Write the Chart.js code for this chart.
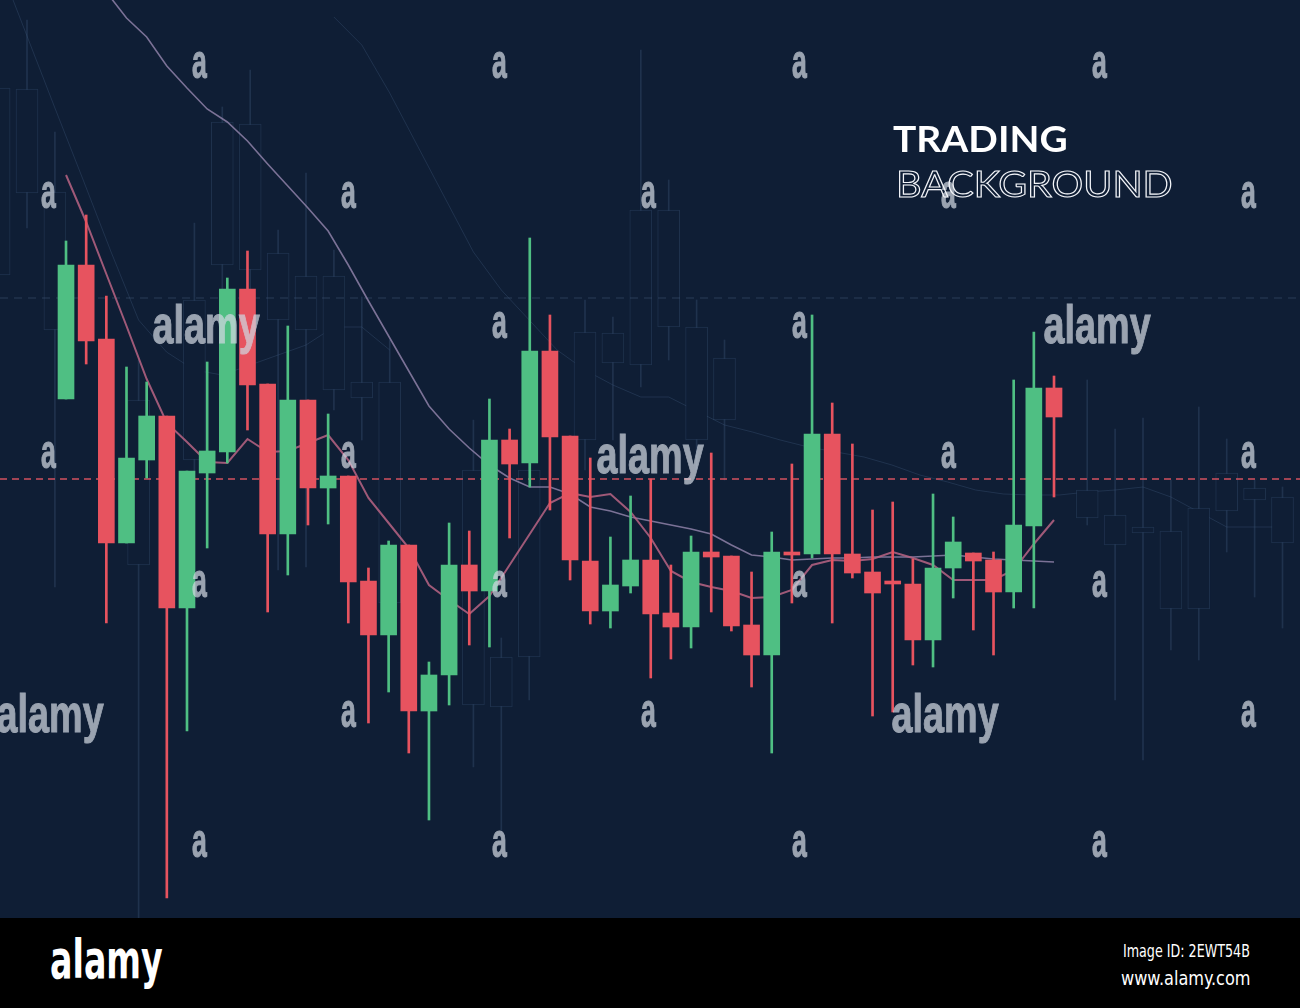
<!DOCTYPE html>
<html lang="en">
<head>
<meta charset="UTF-8">
<title>Trading Background</title>
<script src="https://cdn.jsdelivr.net/npm/chart.js"></script>
<style>
    body { margin: 0; background: #000; }
    #wrap { position: relative; width: 1300px; height: 1008px; background: #000; overflow: hidden; }
    #plot { position: absolute; left: 0; top: 0; width: 1300px; height: 918px; background: #0f1e35; }
    .txt { position: absolute; white-space: nowrap; margin: 0; padding: 0; }
    .wm { color: rgb(208, 215, 225); opacity: 0.72; -webkit-text-stroke: 1px rgb(208, 215, 225);
          font-family: 'Liberation Sans Narrow', 'Liberation Sans', Arial, sans-serif; font-weight: bold; pointer-events: none; }
    .title { color: #fff; font-family: Lato, 'Open Sans', sans-serif; font-weight: bold; }
    .outline { color: transparent; -webkit-text-stroke: 1.1px #f4f6fa; font-weight: normal; }
    .foot { color: #fff; font-family: 'Liberation Sans Narrow', 'DejaVu Sans Condensed', sans-serif; }
</style>
</head>
<body>
<div id="wrap">
    <div id="plot"><canvas id="chart"></canvas></div>
    <div id="marks"></div>
</div>
<script>
// main candles, prices
const opens  = [60.1, 73.5, 66.1, 45.7, 54.0, 58.4, 39.2, 52.7, 54.8, 71.1,
                61.6, 46.6, 60.0, 51.2, 52.4, 41.9, 36.5, 45.5, 28.9, 32.5,
                43.5, 40.9, 56.0, 53.7, 64.9, 56.4, 43.9, 38.9, 41.4, 44.0,
                38.7, 37.3, 44.8, 44.4, 37.5, 34.5, 44.8, 44.6, 56.6, 44.6,
                42.8, 41.9, 41.6, 36.0, 43.2, 44.7, 44.0, 40.8, 47.4, 61.2];
const closes = [73.5, 65.9, 45.7, 54.2, 58.4, 39.2, 52.9, 54.9, 71.1, 61.5,
                46.6, 60.0, 51.2, 52.4, 41.8, 36.5, 45.5, 28.9, 32.5, 43.5,
                40.9, 56.0, 53.6, 64.9, 56.3, 44.0, 38.9, 41.5, 44.0, 38.6,
                37.3, 44.8, 44.3, 37.4, 34.5, 44.8, 44.5, 56.6, 44.6, 42.7,
                40.7, 41.6, 36.0, 43.2, 45.8, 43.9, 40.8, 47.5, 61.2, 58.3];
const highs  = [75.9, 78.5, 70.4, 63.3, 61.8, 58.4, 52.9, 63.8, 72.2, 74.9,
                61.6, 67.4, 60.0, 58.6, 52.4, 43.2, 45.9, 45.5, 33.8, 47.7,
                46.9, 60.1, 57.1, 76.2, 68.5, 56.4, 54.2, 46.3, 50.4, 52.1,
                43.5, 46.4, 54.7, 44.4, 42.8, 46.8, 53.6, 68.5, 59.7, 55.6,
                49.0, 49.8, 44.1, 50.6, 48.3, 44.7, 44.8, 62.0, 66.8, 62.4];
const lows   = [60.1, 63.6, 37.7, 45.7, 52.2, 10.2, 26.9, 45.2, 53.7, 57.0,
                38.8, 42.5, 47.5, 47.6, 37.7, 27.7, 30.8, 24.7, 18.0, 29.5,
                35.5, 35.3, 46.2, 51.3, 49.0, 42.0, 37.6, 37.2, 40.7, 32.2,
                34.1, 35.2, 38.8, 36.9, 31.3, 24.7, 39.7, 44.2, 37.7, 42.2,
                28.4, 28.8, 33.5, 33.3, 40.2, 37.0, 34.5, 39.2, 39.2, 50.3];

// moving averages at each candle
const maFast = [82.5, 77.8, 72.6, 67.4, 62.1, 57.7, 55.8, 53.8, 53.7, 56.1,
                54.8, 54.9, 55.7, 56.5, 54.0, 50.2, 47.7, 45.2, 41.5, 40.0,
                38.6, 40.4, 43.5, 46.6, 49.7, 50.7, 50.3, 50.6, 48.8, 46.2,
                42.9, 41.8, 41.3, 40.9, 40.2, 40.3, 41.0, 43.5, 44.0, 43.9,
                44.1, 44.8, 44.2, 43.5, 42.0, 42.0, 42.0, 43.0, 45.6, 48.0];
const maSlow = [105.9, 103.3, 100.8, 98.2, 96.3, 93.4, 91.2, 89.1, 87.8, 85.9,
                83.6, 81.4, 79.2, 76.9, 73.5, 69.9, 66.4, 62.9, 59.4, 57.1,
                55.2, 53.5, 52.2, 51.3, 51.3, 50.6, 49.3, 48.9, 48.3, 47.9,
                47.5, 47.1, 46.6, 45.5, 44.5, 44.3, 44.0, 44.1, 44.2, 44.2,
                44.3, 44.3, 44.3, 44.4, 44.5, 44.3, 44.1, 44.0, 43.9, 43.8];

// faint candles of the larger chart behind (slot, body top/bottom, high, low)
const bgSlot   = [-1, 0, 1, 4, 6, 7, 8, 9, 10, 11, 12, 13, 16, 17, 18,
                  20, 21, 22, 23, 24, 25, 38, 39, 40, 41, 42, 43, 44, 45];
const bgTop    = [91.2, 91.1, 80.8, 60.0, 70.0, 87.8, 87.6, 74.7, 72.4, 72.4, 61.8, 61.8, 53.0, 34.3, 53.0,
                  66.8, 66.7, 79.0, 79.0, 67.3, 64.2, 51.0, 48.5, 47.3, 46.9, 49.2, 52.7, 51.2, 50.3];
const bgBottom = [72.5, 80.7, 67.0, 43.5, 54.0, 73.5, 73.0, 68.0, 67.0, 61.0, 60.2, 39.7, 29.5, 29.3, 34.3,
                  56.0, 63.7, 63.5, 67.3, 56.0, 58.0, 48.2, 45.5, 46.7, 39.1, 39.1, 48.9, 50.0, 45.7];
const bgHigh   = [94.3, 98.0, 86.8, 64.0, 77.7, 89.3, 93.0, 77.0, 82.7, 75.0, 70.3, 66.0, 58.0, 36.2, 56.0,
                  70.0, 68.3, 95.0, 82.0, 70.0, 66.0, 62.0, 57.1, 58.2, 52.0, 59.3, 56.1, 52.0, 51.3];
const bgLow    = [70.0, 77.2, 41.3, 8.0, 48.0, 70.0, 67.0, 43.0, 43.3, 59.0, 56.0, 38.5, 23.3, 17.0, 30.0,
                  53.0, 56.0, 61.3, 64.0, 53.0, 52.0, 47.5, 30.0, 24.0, 35.0, 34.0, 44.8, 40.3, 37.2];

// faint averages of the chart behind
const bgLineASlot = [-1, 0, 1, 2, 3, 4, 5, 6, 7, 8, 9, 10, 11, 12, 13];
const bgLineA     = [103.6, 96.4, 89.2, 82.1, 74.9, 68.0, 64.8, 63.0, 62.5, 63.5, 64.5, 65.5, 67.3, 67.3, 65.0];
const bgLineBSlot = [11, 12, 13, 14, 15, 16, 17, 18, 19, 20, 21, 22, 23, 24, 25, 26, 27, 28,
                     29, 30, 31, 32, 33, 34, 35, 36, 37, 38, 39, 40, 41, 42, 43, 44, 45];
const bgLineB     = [98.3, 95.5, 90.7, 85.4, 80.1, 74.8, 71.0, 68.0, 65.0, 63.0, 61.5, 60.3, 60.3, 58.9, 57.5, 56.8, 56.0, 55.3,
                     54.8, 54.3, 53.5, 52.5, 51.8, 51.0, 50.6, 50.5, 50.5, 50.8, 51.0, 51.3, 50.3, 48.8, 47.3, 47.3, 47.3];

const levelLine = 52.1;   // red dashed
const faintLevel = 70.2;  // grey dashed

const GREEN = '#4fbf83';
const RED = '#e7535f';
const BG = '#0f1e35';
const FAINT = 'rgba(65, 90, 125, 0.34)';

const xMin = -3.274, xMax = 61.2;
const bxMin = -0.968, bxMax = 45.627;

const idx = opens.map((_, i) => i);
const candleColors = idx.map(i => closes[i] >= opens[i] ? GREEN : RED);

const barOpts = { grouped: false, categoryPercentage: 1, barPercentage: 1 };

const ctx = document.getElementById('chart').getContext('2d');
new Chart(ctx, {
    data: {
        datasets: [
            Object.assign({
                type: 'bar', label: 'body', xAxisID: 'x', order: 0,
                data: idx.map(i => ({ x: i, y: [opens[i], closes[i]] })),
                backgroundColor: candleColors, maxBarThickness: 16, minBarLength: 3
            }, barOpts),
            Object.assign({
                type: 'bar', label: 'wick', xAxisID: 'x', order: 1,
                data: idx.map(i => ({ x: i, y: [lows[i], highs[i]] })),
                backgroundColor: candleColors, maxBarThickness: 2
            }, barOpts),
            {
                type: 'line', label: 'level', xAxisID: 'x', order: 2,
                data: [{ x: xMin, y: levelLine }, { x: xMax, y: levelLine }],
                borderColor: 'rgba(232, 88, 100, 0.9)', borderWidth: 1.5,
                borderDash: [7, 5], pointRadius: 0
            },
            {
                type: 'line', label: 'MA fast', xAxisID: 'x', order: 3,
                data: idx.map(i => ({ x: i, y: maFast[i] })),
                borderColor: 'rgba(185, 100, 132, 0.85)', borderWidth: 2,
                pointRadius: 0, tension: 0
            },
            {
                type: 'line', label: 'MA slow', xAxisID: 'x', order: 4,
                data: idx.map(i => ({ x: i, y: maSlow[i] })),
                borderColor: 'rgba(150, 135, 175, 0.8)', borderWidth: 1.6,
                pointRadius: 0, tension: 0
            },
            {
                type: 'line', label: 'faint level', xAxisID: 'x', order: 5,
                data: [{ x: xMin, y: faintLevel }, { x: xMax, y: faintLevel }],
                borderColor: 'rgba(70, 92, 125, 0.5)', borderWidth: 1,
                borderDash: [8, 6], pointRadius: 0
            },
            Object.assign({
                type: 'bar', label: 'bg body', xAxisID: 'xb', order: 6,
                data: bgSlot.map((k, j) => ({ x: k, y: [bgBottom[j], bgTop[j]] })),
                backgroundColor: BG, borderColor: FAINT, borderWidth: 1,
                borderSkipped: false, maxBarThickness: 22
            }, barOpts),
            Object.assign({
                type: 'bar', label: 'bg wick', xAxisID: 'xb', order: 7,
                data: bgSlot.map((k, j) => ({ x: k, y: [bgLow[j], bgHigh[j]] })),
                backgroundColor: FAINT, maxBarThickness: 1
            }, barOpts),
            {
                type: 'line', label: 'bg line A', xAxisID: 'xb', order: 8,
                data: bgLineASlot.map((k, j) => ({ x: k, y: bgLineA[j] })),
                borderColor: FAINT, borderWidth: 1, pointRadius: 0, tension: 0
            },
            {
                type: 'line', label: 'bg line B', xAxisID: 'xb', order: 9,
                data: bgLineBSlot.map((k, j) => ({ x: k, y: bgLineB[j] })),
                borderColor: FAINT, borderWidth: 1, pointRadius: 0, tension: 0
            }
        ]
    },
    options: {
        responsive: true,
        maintainAspectRatio: false,
        animation: false,
        layout: { padding: 0, autoPadding: false },
        plugins: { legend: { display: false }, tooltip: { enabled: false } },
        scales: {
            x: { type: 'linear', min: xMin, max: xMax, offset: false, display: false },
            xb: { type: 'linear', min: bxMin, max: bxMax, offset: false, display: false },
            y: { type: 'linear', min: 8.2, max: 100, display: false }
        }
    }
});

// text layer: title, watermarks, footer
const layer = document.getElementById('marks');
const measure = document.createElement('canvas').getContext('2d');

function putText(text, cls, size, anchor, x, baseline, width) {
    const el = document.createElement('div');
    el.className = 'txt ' + cls;
    el.textContent = text;
    el.style.fontSize = size + 'px';
    el.style.lineHeight = size + 'px';
    layer.appendChild(el);
    const cs = getComputedStyle(el);
    measure.font = cs.fontWeight + ' ' + size + 'px ' + cs.fontFamily;
    const m = measure.measureText(text);
    const asc = m.fontBoundingBoxAscent, desc = m.fontBoundingBoxDescent;
    const w = el.offsetWidth;
    el.style.top = (baseline - ((size - (asc + desc)) / 2 + asc)) + 'px';
    if (anchor === 'center') {
        el.style.left = (x - w / 2) + 'px';
        el.style.transformOrigin = 'center';
    } else if (anchor === 'right') {
        el.style.left = (x - w) + 'px';
        el.style.transformOrigin = 'right';
    } else {
        el.style.left = x + 'px';
        el.style.transformOrigin = 'left';
    }
    el.style.transform = 'scaleX(' + (width / w) + ')';
    return el;
}

const singles = [
    [199, 78], [499, 78], [799, 78], [1099, 78],
    [48, 208], [348, 208], [648, 208], [948, 208], [1248, 208],
    [499, 338], [799, 338],
    [48, 468], [348, 468], [948, 468], [1248, 468],
    [199, 597], [499, 597], [799, 597], [1099, 597],
    [348, 727], [648, 727], [1248, 727],
    [199, 857], [499, 857], [799, 857], [1099, 857]
];
singles.forEach(p => putText('a', 'wm', 48, 'center', p[0], p[1], 15));
const words = [[206, 343], [1097, 343], [650, 473], [50, 732], [945, 732]];
words.forEach(p => putText('alamy', 'wm', 53, 'center', p[0], p[1], 107));

putText('TRADING', 'title', 36, 'left', 893, 152, 175);
putText('BACKGROUND', 'title outline', 36, 'left', 896, 197, 277);

const logo = putText('alamy', 'foot', 53, 'left', 50, 978, 102);
logo.style.fontWeight = 'bold';
putText('Image ID: 2EWT54B', 'foot', 17, 'right', 1250, 957, 127);
putText('www.alamy.com', 'foot', 20, 'right', 1251, 985, 130);
</script>
</body>
</html>
